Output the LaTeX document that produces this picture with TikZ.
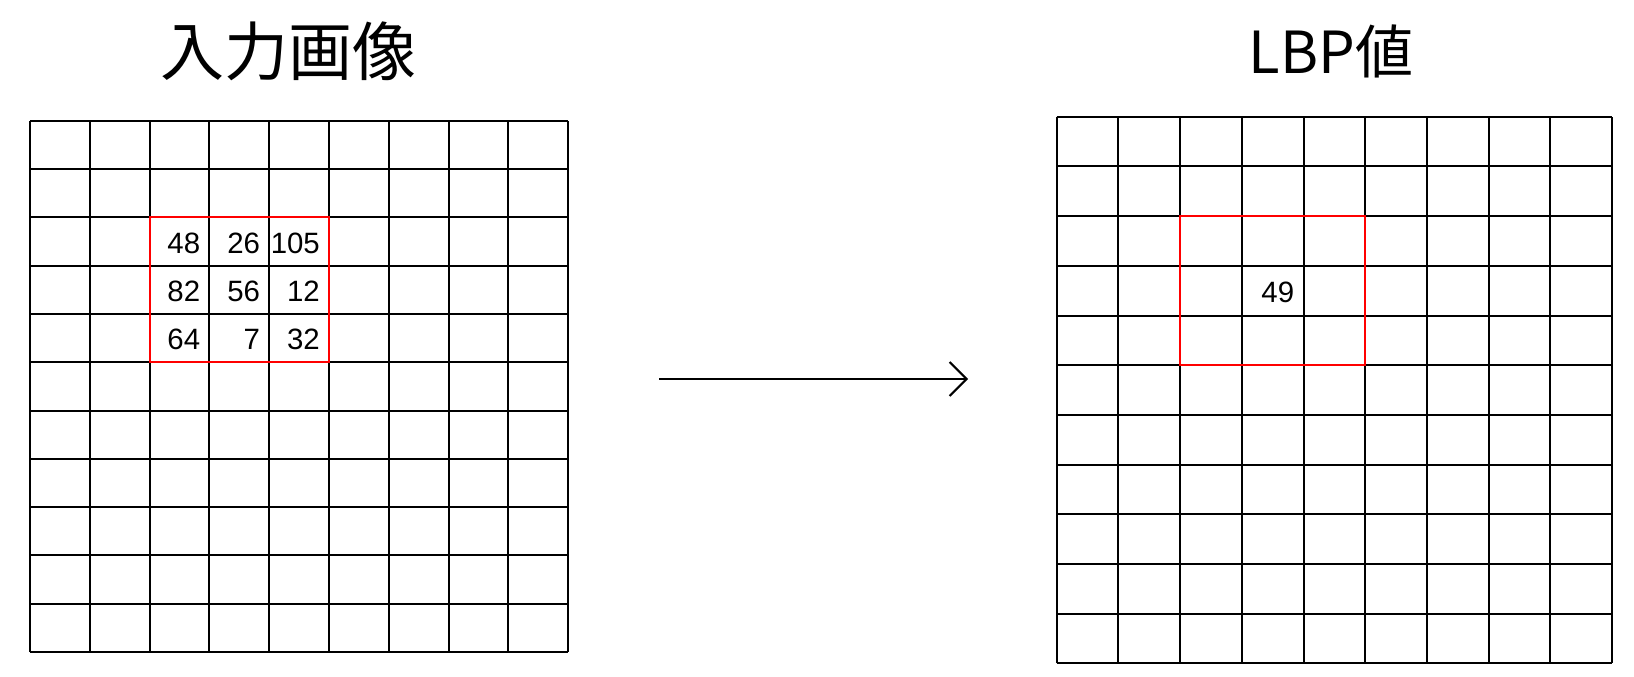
\documentclass[tikz,border=0pt]{standalone}
\usepackage{fontspec}
\setmainfont{Liberation Sans}
\newfontfamily\jpfont{Noto Sans CJK JP}
\usetikzlibrary{arrows.meta,positioning}

\tikzset{
  gridline/.style={line width=1pt, black},
  redbox/.style={line width=1pt, red},
  num/.style={anchor=east, inner sep=0pt, font=\fontsize{14.7}{16}\selectfont},
  title/.style={inner sep=0pt, font=\jpfont\fontsize{32}{36}\selectfont},
}

\begin{document}
\begin{tikzpicture}[x=0.5pt,y=0.5pt]
\useasboundingbox (0,0) rectangle (1634,676);

% input image grid
\foreach \i in {0,...,9} \draw[gridline] (30+\i*59.8,24) -- (30+\i*59.8,555.3);
\foreach \j in {0,...,11} \draw[gridline] (30,24+\j*48.3) -- (568.2,24+\j*48.3);
\draw[redbox] (149.6,313.8) rectangle (329,458.7);

\node[num] (in48) at (200.6,433) {48};
\node[num] (in26) at (260.4,433) {26};
\node[num] (in105) at (320.2,433) {105};
\node[num] (in82) at (200.6,384.7) {82};
\node[num] (in56) at (260.4,384.7) {56};
\node[num] (in12) at (320.2,384.7) {12};
\node[num] (in64) at (200.6,336.4) {64};
\node[num] (in7) at (260.4,336.4) {7};
\node[num] (in32) at (320.2,336.4) {32};

% LBP grid
\foreach \i in {0,...,9} \draw[gridline] (1056.7+\i*61.7,12.6) -- (1056.7+\i*61.7,559.3);
\foreach \j in {0,...,11} \draw[gridline] (1056.7,12.6+\j*49.7) -- (1612,12.6+\j*49.7);
\draw[redbox] (1180.1,310.8) rectangle (1365.2,459.9);

\node[num] (lbp49) at (1294.5,384) {49};

% titles
\node[title] (intitle) at (288,625) {入力画像};
\node[title, font=\jpfont\fontsize{29}{34}\selectfont] (lbptitle) at (1331,625) {LBP値};

\coordinate (arrowL) at (659,297);
\coordinate (arrowR) at (968,297);
\draw[line width=1pt, -{Straight Barb[length=8.5pt,width=17pt]}] (arrowL) -- (arrowR);
\end{tikzpicture}
\end{document}
